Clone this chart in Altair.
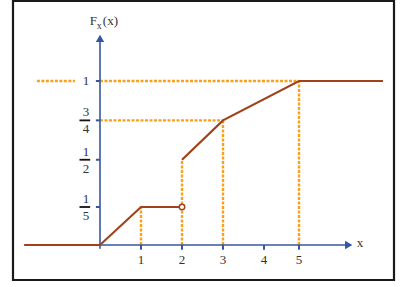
import altair as alt
import pandas as pd

# curve F_X(x)
seg1_x = [-1.85, 0, 1, 2]
seg1_y = [0, 0, 0.2, 0.2]
seg2_x = [2, 3, 5, 7.4]
seg2_y = [0.5, 0.75, 1, 1]

# x ticks
xticks = [1, 2, 3, 4, 5]
# y ticks
ytick_vals = [0.2, 0.5, 0.75, 1]
frac_vals = [0.2, 0.5, 0.75]
frac_num = ["1", "1", "3"]
frac_den = ["5", "2", "4"]

# dotted guides
vguide_x = [1, 2, 3, 5]
vguide_top = [0.2, 0.5, 0.75, 1]
hguide_y = [0.75, 1, 1]
hguide_x1 = [0, 0, -1.54]
hguide_x2 = [3, 5, -0.61]

BROWN = "#A0431B"
ORANGE = "#F9A11B"
BLUE = "#3556A0"
TXT = "#333333"
SERIF = "Liberation Serif"

xs = alt.Scale(domain=[0, 4, 5], range=[87, 251, 286], nice=False, zero=False)
ys = alt.Scale(domain=[0, 0.2, 1], range=[244, 206, 80], nice=False, zero=False)

def X(f, t="quantitative"):
    return alt.X(f, type=t, scale=xs, axis=None)

def Y(f, t="quantitative"):
    return alt.Y(f, type=t, scale=ys, axis=None)

curve_df = pd.DataFrame({
    "x": seg1_x + seg2_x,
    "y": seg1_y + seg2_y,
    "seg": ["a"] * len(seg1_x) + ["b"] * len(seg2_x),
})
vg_df = pd.DataFrame({"x": vguide_x, "top": vguide_top, "zero": [0] * len(vguide_x)})
hg_df = pd.DataFrame({"y": hguide_y, "x1": hguide_x1, "x2": hguide_x2})
xt_df = pd.DataFrame({"x": xticks, "y0": [0] * 5, "y1": [-0.025] * 5, "lbl": [str(v) for v in xticks]})
yt_df = pd.DataFrame({"y": ytick_vals, "x0": [0] * 4, "x1": [-0.1] * 4})
fr_df = pd.DataFrame({"y": frac_vals, "num": frac_num, "den": frac_den,
                      "xc": [-0.34] * 3, "b1": [-0.5] * 3, "b2": [-0.24] * 3})
axis_df = pd.DataFrame({"x": [0, 0, 0], "y": [0, 0, -0.02], "x2": [6.4, 0, 0], "y2": [0, 1.27, 0]})

vguides = alt.Chart(vg_df).mark_rule(color=ORANGE, strokeWidth=2.4, strokeDash=[3, 1.5]).encode(
    x=X("x"), y=Y("zero"), y2="top")
hguides = alt.Chart(hg_df).mark_rule(color=ORANGE, strokeWidth=2.4, strokeDash=[3, 1.5]).encode(
    x=X("x1"), x2="x2", y=Y("y"))

axes = alt.Chart(axis_df).mark_rule(color=BLUE, strokeWidth=1.6).encode(
    x=X("x"), x2="x2", y=Y("y"), y2="y2")
arrow_up = alt.Chart(pd.DataFrame({"x": [0], "y": [1.27]})).mark_point(
    shape="triangle-up", filled=True, color=BLUE, size=70, opacity=1).encode(x=X("x"), y=Y("y"))
arrow_right = alt.Chart(pd.DataFrame({"x": [6.42], "y": [0]})).mark_point(
    shape="triangle-right", filled=True, color=BLUE, size=70, opacity=1).encode(x=X("x"), y=Y("y"))

xtick_marks = alt.Chart(xt_df).mark_rule(color=BLUE, strokeWidth=2).encode(
    x=X("x"), y=Y("y0"), y2="y1")
xtick_lbls = alt.Chart(xt_df).mark_text(font=SERIF, fontSize=13, color=TXT, dy=15).encode(
    x=X("x"), y=Y("y0"), text="lbl")
ytick_marks = alt.Chart(yt_df).mark_rule(color=BLUE, strokeWidth=2).encode(
    x=X("x0"), x2="x1", y=Y("y"))

one_lbl = alt.Chart(pd.DataFrame({"x": [-0.34], "y": [1], "t": ["1"]})).mark_text(
    font=SERIF, fontSize=13, color=TXT).encode(x=X("x"), y=Y("y"), text="t")
fr_num = alt.Chart(fr_df).mark_text(font=SERIF, fontSize=13, color=TXT, dy=-8).encode(
    x=X("xc"), y=Y("y"), text="num")
fr_den = alt.Chart(fr_df).mark_text(font=SERIF, fontSize=13, color=TXT, dy=9).encode(
    x=X("xc"), y=Y("y"), text="den")
fr_bar = alt.Chart(fr_df).mark_rule(color="#111111", strokeWidth=1.8).encode(
    x=X("b1"), x2="b2", y=Y("y"))

curve = alt.Chart(curve_df).mark_line(color=BROWN, strokeWidth=2.2).encode(
    x=X("x"), y=Y("y"), detail="seg:N")
open_pt = alt.Chart(pd.DataFrame({"x": [2], "y": [0.2]})).mark_point(
    shape="circle", filled=True, fill="white", stroke=BROWN, strokeWidth=1.5, size=30, opacity=1).encode(
    x=X("x"), y=Y("y"))

x_lbl = alt.Chart(pd.DataFrame({"x": [6.65], "y": [0], "t": ["x"]})).mark_text(
    font=SERIF, fontSize=13, color=TXT, align="left", dy=-2).encode(x=X("x"), y=Y("y"), text="t")
F_lbl = alt.Chart(pd.DataFrame({"x": [-0.25], "y": [1.38], "t": ["F"]})).mark_text(
    font=SERIF, fontSize=13, color=TXT, align="left").encode(x=X("x"), y=Y("y"), text="t")
Fsub_lbl = alt.Chart(pd.DataFrame({"x": [-0.08], "y": [1.38], "t": ["x"]})).mark_text(
    font=SERIF, fontSize=10, color=TXT, align="left", dy=5).encode(x=X("x"), y=Y("y"), text="t")
Fpar_lbl = alt.Chart(pd.DataFrame({"x": [0.07], "y": [1.38], "t": ["(x)"]})).mark_text(
    font=SERIF, fontSize=13, color=TXT, align="left").encode(x=X("x"), y=Y("y"), text="t")

chart = alt.layer(
    vguides, hguides, axes, arrow_up, arrow_right, xtick_marks, ytick_marks,
    xtick_lbls, one_lbl, fr_num, fr_den, fr_bar, curve, open_pt,
    x_lbl, F_lbl, Fsub_lbl, Fpar_lbl
).properties(
    width=381, height=279,
    background="white",
    autosize=alt.AutoSizeParams(type="none"),
    padding={"left": 13, "top": 1, "right": 16, "bottom": 7},
).configure_view(stroke="#1a1a1a", strokeWidth=2.2)

chart.save("out.html", embed_options={"renderer": "svg", "actions": False})
